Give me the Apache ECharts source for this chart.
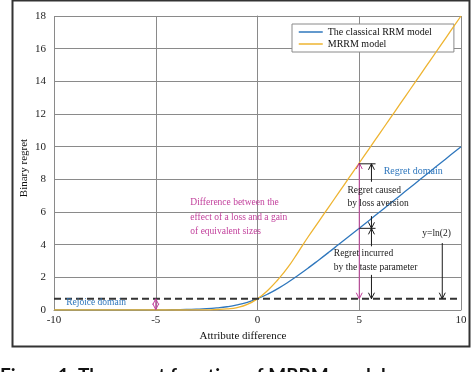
<!DOCTYPE html>
<html><head><meta charset="utf-8">
<script src="https://cdn.jsdelivr.net/npm/echarts@6/dist/echarts.min.js"></script>
<style>html,body{margin:0;padding:0;background:#fff;}#c{width:474px;height:372px;}</style>
</head><body><div id="c"></div>
<script>
// ---- data ----
var xValues = [-10,-9.5,-9,-8.5,-8,-7.5,-7,-6.5,-6,-5.5,-5,-4.5,-4,-3.5,-3,-2.5,-2,-1.5,-1,-0.5,0,0.5,1,1.5,2,2.5,3,3.5,4,4.5,5,5.5,6,6.5,7,7.5,8,8.5,9,9.5,10];
var classicalRRM = [0,0,0,0,0,0,0,0,0,0,0.01,0.01,0.02,0.03,0.05,0.08,0.13,0.2,0.31,0.47,0.69,0.97,1.31,1.7,2.13,2.58,3.05,3.53,4.02,4.51,5.0,5.5,6.0,6.5,7.0,7.5,8.0,8.5,9.0,9.5,10.0];
var mrrm = [0,0,0,0,0,0,0,0,0,0,0,0,0,0,0.01,0.01,0.03,0.07,0.15,0.34,0.69,1.2,1.85,2.62,3.55,4.5,5.4,6.3,7.2,8.1,9.0,9.9,10.8,11.7,12.6,13.5,14.4,15.3,16.2,17.1,18.0];
var seriesNames = ['The classical RRM model', 'MRRM model'];
var lnTwo = 0.69;
var xTicks = {min: -10, max: 10, step: 5};
var yTicks = {min: 0, max: 18, step: 2};
var xTitle = 'Attribute difference';
var yTitle = 'Binary regret';
var caption = 'Figure 1. The regret function of MRRM model';
var textRejoice = 'Rejoice domain';
var textRegretDomain = 'Regret domain';
var textDifference = ['Difference between the', 'effect of a loss and a gain', 'of equivalent sizes'];
var textLossAversion = ['Regret caused', 'by loss aversion'];
var textTaste = ['Regret incurred', 'by the taste parameter'];
var textLn2 = 'y=ln(2)';

var BLUE = '#2f77bd', ORANGE = '#eeb431', MAG = '#c2409c', DARK = '#1a1a1a';
var FONT = '"Liberation Serif","Times New Roman",serif';

function pairs(xs, ys){ return xs.map(function(x,i){ return [x, ys[i]]; }); }

var chart = echarts.init(document.getElementById('c'), null, {renderer:'canvas'});
chart.setOption({
  animation: false,
  backgroundColor: '#fff',
  grid: {left: 54, top: 16, width: 407, height: 294},
  legend: {
    orient: 'vertical', left: 292, top: 24,
    backgroundColor: '#fff', borderColor: '#8a8a8a', borderWidth: 1,
    padding: [3, 22, 3, 6], itemWidth: 24, itemHeight: 12, itemGap: 2,
    itemStyle: {opacity: 0, borderWidth: 0},
    lineStyle: {width: 1.5},
    textStyle: {fontFamily: FONT, fontSize: 10, color: '#111'},
    data: seriesNames
  },
  xAxis: {
    type: 'value', min: xTicks.min, max: xTicks.max, interval: xTicks.step,
    axisLine: {show: true, onZero: false, lineStyle: {color: '#8a8a8a', width: 1}},
    axisTick: {show: false},
    axisLabel: {fontFamily: FONT, fontSize: 11, color: '#222', margin: 5},
    splitLine: {show: true, lineStyle: {color: '#8a8a8a', width: 1}}
  },
  yAxis: {
    type: 'value', min: yTicks.min, max: yTicks.max, interval: yTicks.step,
    axisLine: {show: true, lineStyle: {color: '#8a8a8a', width: 1}},
    axisTick: {show: false},
    axisLabel: {fontFamily: FONT, fontSize: 11, color: '#222', margin: 8},
    splitLine: {show: true, lineStyle: {color: '#8a8a8a', width: 1}}
  },
  series: [
    {name: seriesNames[0], type: 'line', data: pairs(xValues, classicalRRM), symbol: 'none', smooth: true,
     lineStyle: {color: BLUE, width: 1.3}, itemStyle: {color: BLUE}, z: 3},
    {name: seriesNames[1], type: 'line', data: pairs(xValues, mrrm), symbol: 'none', smooth: true,
     lineStyle: {color: ORANGE, width: 1.3}, itemStyle: {color: ORANGE}, z: 4}
  ]
});

function P(x, y){ return chart.convertToPixel({gridIndex: 0}, [x, y]); }
function line(p1, p2, color, w, dash){
  return {type: 'line', shape: {x1: p1[0], y1: p1[1], x2: p2[0], y2: p2[1]},
    style: {stroke: color, lineWidth: w || 1, lineDash: dash || null}, z: 10};
}
function head(p, dir, color){ // dir: -1 pointing up, +1 pointing down
  return {type: 'polyline', shape: {points: [[p[0]-3, p[1]-dir*6], [p[0], p[1]], [p[0]+3, p[1]-dir*6]]},
    style: {stroke: color, lineWidth: 1, fill: null}, z: 10};
}
function arrow(x, yFrom, yTo, color, both){
  var a = P(x, yFrom), b = P(x, yTo);
  var dir = b[1] > a[1] ? 1 : -1;
  var out = [line(a, b, color, 1), head(b, dir, color)];
  if (both) out.push(head(a, -dir, color));
  return out;
}
function text(x, y, str, color, size, align){
  var p = P(x, y);
  return {type: 'text', x: p[0], y: p[1], z: 11,
    style: {text: str, fill: color, font: (size||10) + 'px ' + FONT, align: align || 'left', verticalAlign: 'middle'}};
}

var g = [];
// outer frame
g.push({type: 'rect', shape: {x: 12.5, y: 0.5, width: 457, height: 346}, style: {stroke: '#333', lineWidth: 2, fill: null}, z: 1});
// y = ln(2) dashed line
g.push(line(P(-10, lnTwo), P(10, lnTwo), '#333', 2, [7, 4]));
// magenta arrows
g = g.concat(arrow(-5, 0.02, lnTwo, MAG, true));
g = g.concat(arrow(5, lnTwo, 9, MAG, true));
// black arrows and ticks
g.push(line(P(5, 8.95), P(5.8, 8.95), DARK, 1));
g.push(line(P(5, 5.0), P(5.8, 5.0), DARK, 1));
g = g.concat(arrow(5.6, 7.85, 8.95, DARK));
g = g.concat(arrow(5.6, 5.75, 5.0, DARK));
g = g.concat(arrow(5.6, 3.9, 5.0, DARK));
g = g.concat(arrow(5.6, 2.15, lnTwo, DARK));
g = g.concat(arrow(9.08, 4.1, lnTwo, DARK));
// texts
g.push(text(-9.4, 0.45, textRejoice, BLUE, 9.5));
g.push(text(6.2, 8.5, textRegretDomain, BLUE, 10));
g.push(text(-3.3, 6.56, textDifference[0], MAG, 9.5));
g.push(text(-3.3, 5.67, textDifference[1], MAG, 9.5));
g.push(text(-3.3, 4.8, textDifference[2], MAG, 9.5));
g.push(text(4.42, 7.34, textLossAversion[0], DARK, 9.5));
g.push(text(4.42, 6.53, textLossAversion[1], DARK, 9.5));
g.push(text(3.75, 3.47, textTaste[0], DARK, 9.5));
g.push(text(3.75, 2.6, textTaste[1], DARK, 9.5));
g.push(text(8.1, 4.7, textLn2, DARK, 9.5));
// axis titles
g.push({type: 'text', x: 243, y: 336, z: 11, style: {text: xTitle, fill: '#111', font: '11px ' + FONT, align: 'center', verticalAlign: 'middle'}});
g.push({type: 'text', x: 24, y: 168, rotation: Math.PI/2, z: 11, style: {text: yTitle, fill: '#111', font: '11px ' + FONT, align: 'center', verticalAlign: 'middle'}});
// caption (cut off at bottom of the picture)
g.push({type: 'text', x: 0, y: 366, z: 11, style: {text: caption, fill: '#111', font: 'bold 19px Lato, "Open Sans", sans-serif', align: 'left', verticalAlign: 'top'}});

chart.setOption({graphic: {elements: g}});
</script>
</body></html>
